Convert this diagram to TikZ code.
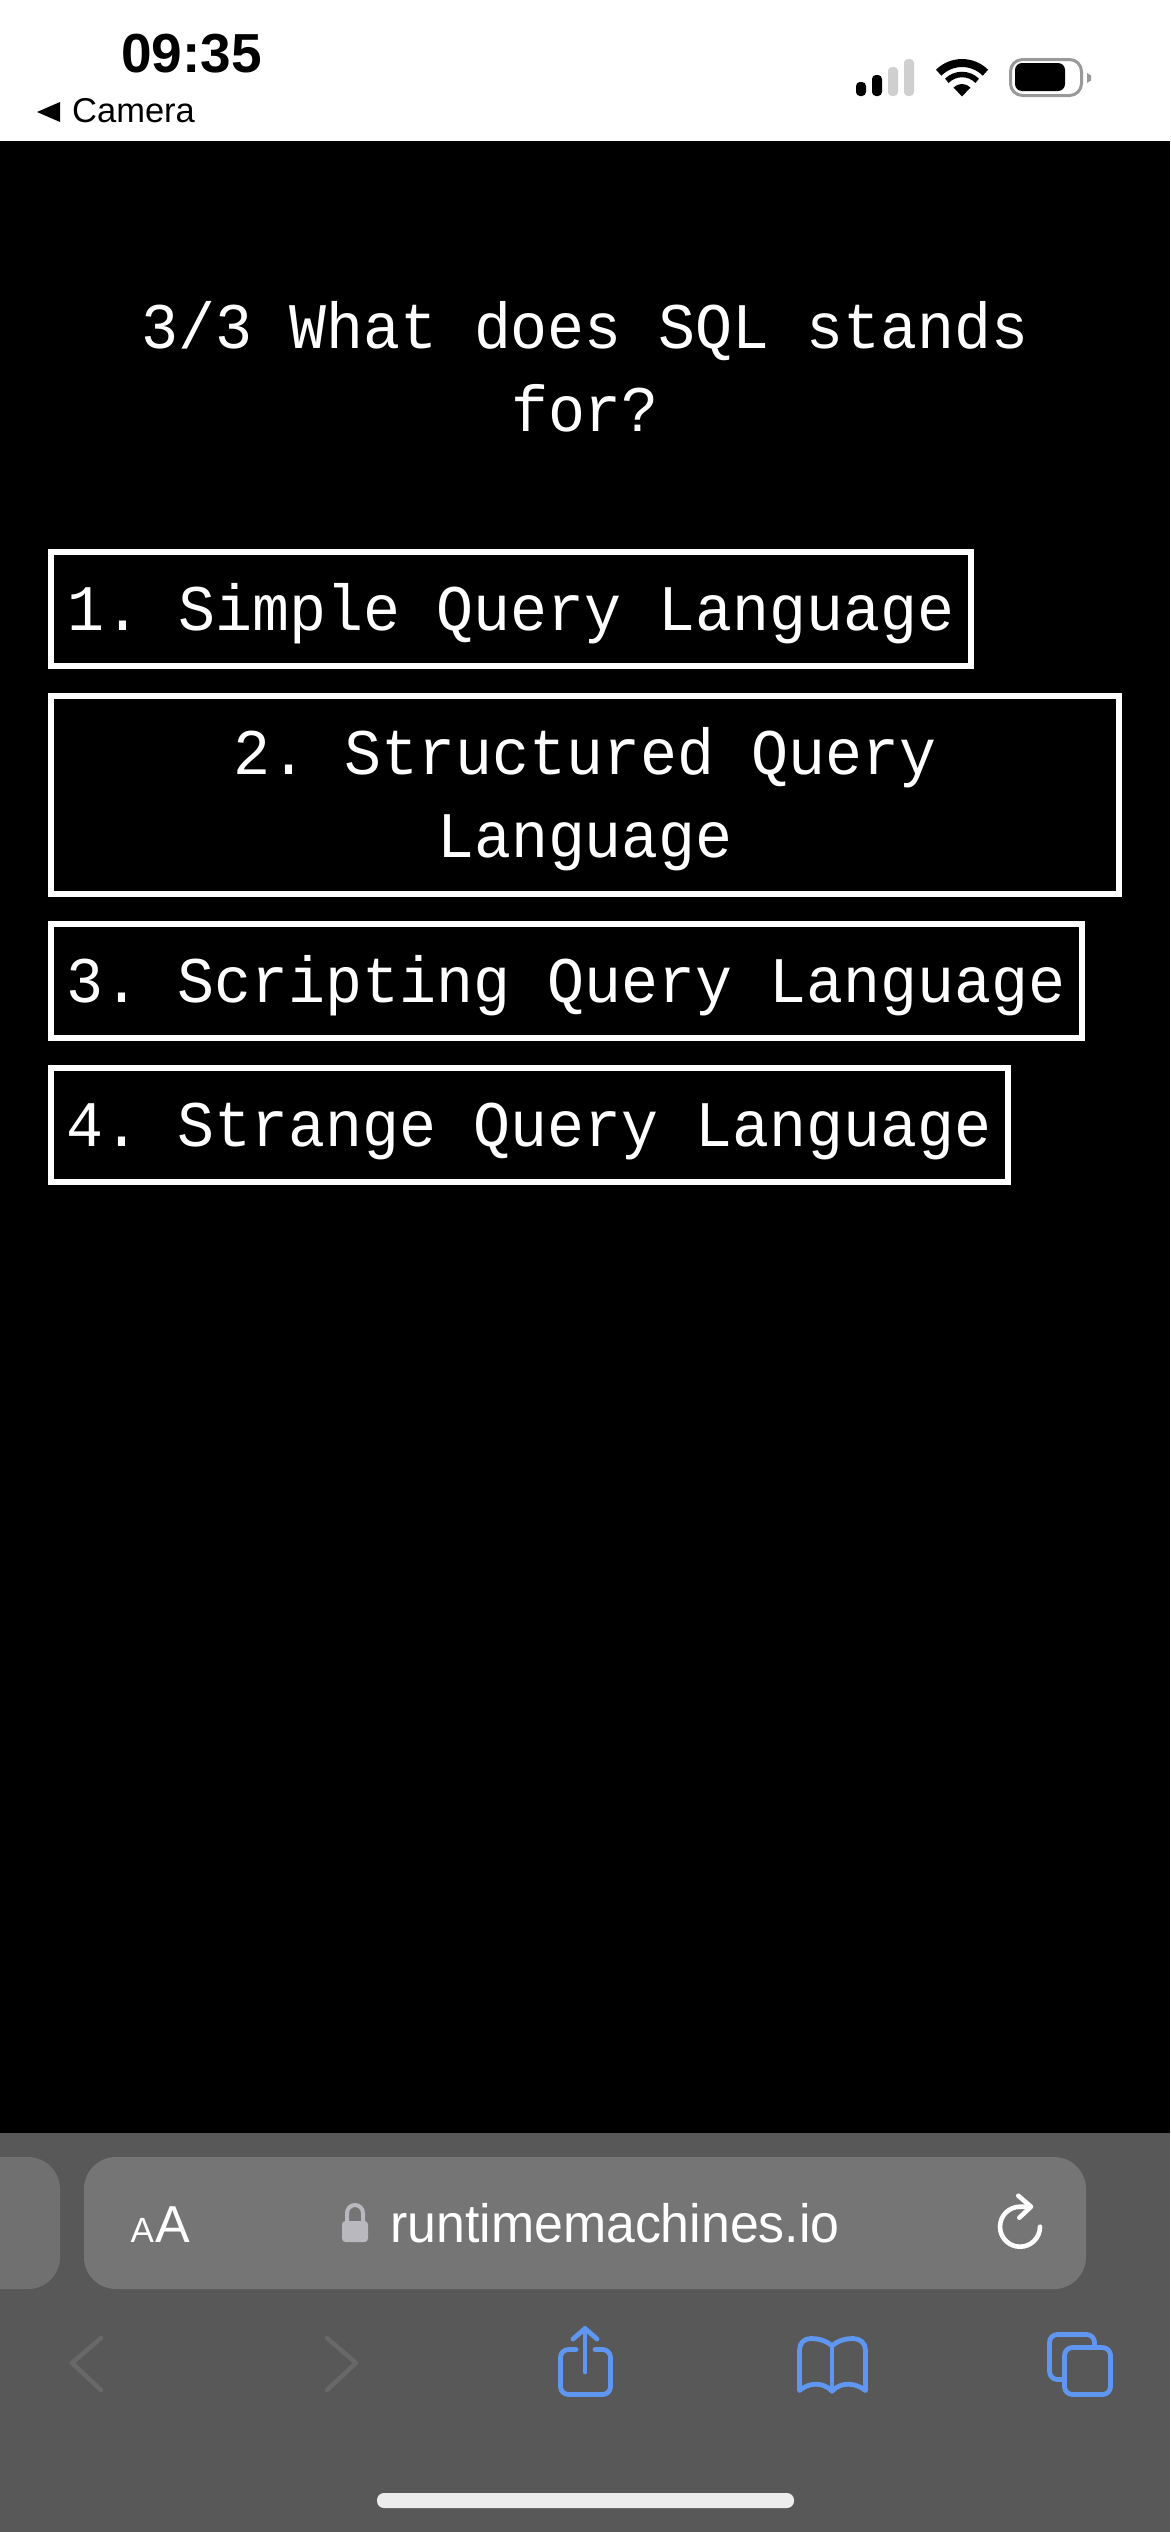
\documentclass[tikz,border=0pt]{standalone}
\usepackage{fontspec}
\setmainfont{Liberation Sans}
\setmonofont[FakeStretch=0.948]{Liberation Mono}
\newfontfamily\urlfont[FakeStretch=0.96]{Liberation Sans}
\newcommand{\pxfont}[1]{\fontsize{#1}{#1}\selectfont}
\definecolor{barbg}{HTML}{585858}
\definecolor{pillbg}{HTML}{757575}
\definecolor{sidepill}{HTML}{707070}
\definecolor{iconblue}{HTML}{5F96F2}
\definecolor{dimicon}{HTML}{686868}
\definecolor{lockgrey}{HTML}{B8B8BE}
\definecolor{faint}{HTML}{CFCFCF}
\definecolor{battgrey}{HTML}{999999}
\tikzset{
  x=1pt,y=-1pt,
  quiz/.style={font=\ttfamily\pxfont{65}, text=white, align=center, inner sep=0pt, anchor=base},
  answerbox/.style={draw=white, line width=6pt, fill=black},
  blueicon/.style={draw=iconblue, line width=4.8pt, line join=round, line cap=round},
  dimchev/.style={draw=dimicon, line width=4.5pt, line cap=round, line join=round},
  statustext/.style={text=black, inner sep=0pt, anchor=base west},
  urltext/.style={text=white, inner sep=0pt, anchor=base west},
}
\begin{document}
\begin{tikzpicture}
\useasboundingbox (0,0) rectangle (1170,2532);
\fill[black] (0,0) rectangle (1170,2532);
% status bar
\fill[white] (0,0) rectangle (1170,141);
\node[statustext,font=\bfseries\pxfont{55}] (clock) at (121,72) {09:35};
\node[statustext,font=\pxfont{34.5}] (camera) at (72,122.5) {Camera};
\fill[black] (60,102) -- (37,112) -- (60,122) -- cycle;
\fill[black,rounded corners=4pt] (856,82) rectangle (866,96);
\fill[black,rounded corners=4pt] (872,75) rectangle (882,96);
\fill[faint,rounded corners=4pt] (888,67) rectangle (898,96);
\fill[faint,rounded corners=4pt] (904,59) rectangle (914,96);
% wifi
\fill[black] (962,96.5) -- (953.5,87.5) arc[start angle=225,end angle=315,radius=12] -- cycle;
\draw[black,line width=5.5pt] (946.8,80.8) arc[start angle=225,end angle=315,radius=21.5];
\draw[black,line width=8pt] (938.7,72.7) arc[start angle=225,end angle=315,radius=33];
% battery
\draw[draw=battgrey,line width=3pt,rounded corners=12pt] (1010.5,59.5) rectangle (1081.5,95.5);
\fill[black,rounded corners=7pt] (1015,63) rectangle (1065,91);
\fill[battgrey] (1087,73) -- (1087,83) -- (1091,80.5) -- (1091,75.5) -- cycle;
% question
\node[quiz] (q1) at (585,348) {3/3 What does SQL stands};
\node[quiz] (q2) at (585,431) {for?};
% answers
\draw[answerbox] (51,552) rectangle (971,666);
\node[quiz] (a1) at (511,630) {1. Simple Query Language};
\draw[answerbox] (51,696) rectangle (1119,894);
\node[quiz] (a2a) at (585,774) {2. Structured Query};
\node[quiz] (a2b) at (585,857) {Language};
\draw[answerbox] (51,924) rectangle (1082,1038);
\node[quiz] (a3) at (566,1002) {3. Scripting Query Language};
\draw[answerbox] (51,1068) rectangle (1008,1182);
\node[quiz] (a4) at (529,1146) {4. Strange Query Language};
% bottom bar
\fill[barbg] (0,2133) rectangle (1170,2532);
\fill[sidepill,rounded corners=32pt] (-60,2157) rectangle (60,2289);
\fill[pillbg,rounded corners=32pt] (84,2157) rectangle (1086,2289);
\node[urltext,font=\pxfont{35}] (smalla) at (130.5,2242) {A};
\node[urltext,font=\pxfont{52}] (biga) at (155,2242) {A};
\fill[lockgrey,rounded corners=3.5pt] (342,2221) rectangle (368,2242);
\draw[lockgrey,line width=4pt] (347,2223) -- (347,2213) arc[start angle=180,end angle=360,radius=8] -- (363,2223);
\node[urltext,font=\urlfont\pxfont{54}] (url) at (390,2242) {runtimemachines.io};
% reload
\draw[white,line width=4.6pt,line cap=round] (1030,2206.7) -- (1020,2206.7) arc[start angle=270,end angle=0,radius=20] ;
\draw[white,line width=4.6pt,line cap=round,line join=round] (1018.3,2195.7) -- (1031,2206.7) -- (1019.3,2217.7);
% nav
\draw[dimchev] (101,2338) -- (72,2363) -- (101,2390);
\draw[dimchev] (327,2338) -- (356,2363) -- (327,2390);
% share
\draw[blueicon,rounded corners=8pt] (576,2349.5) -- (560.5,2349.5) -- (560.5,2394.5) -- (610.5,2394.5) -- (610.5,2349.5) -- (595,2349.5);
\draw[blueicon] (585,2372) -- (585,2328.5);
\draw[blueicon] (573,2339) -- (585,2328.5) -- (597,2339);
% book
\draw[blueicon] (832,2391) -- (832,2346);
\draw[blueicon] (832,2346) .. controls (826,2340) and (817,2338.5) .. (811,2338.5) .. controls (804,2338.5) and (799.5,2343) .. (799.5,2350) -- (799.5,2390.5) .. controls (808,2383) and (822,2381) .. (832,2391);
\draw[blueicon] (832,2346) .. controls (838,2340) and (847,2338.5) .. (853,2338.5) .. controls (860,2338.5) and (865.5,2343) .. (865.5,2350) -- (865.5,2390.5) .. controls (856,2383) and (842,2381) .. (832,2391);
% tabs
\draw[blueicon,rounded corners=8pt] (1062,2379.5) -- (1049.5,2379.5) -- (1049.5,2334.5) -- (1094.5,2334.5) -- (1094.5,2347);
\draw[blueicon,rounded corners=8pt] (1064.5,2347.5) rectangle (1110.5,2394.5);
% home indicator
\fill[black!7,rounded corners=7pt] (377,2493) rectangle (794,2508);
\end{tikzpicture}
\end{document}
